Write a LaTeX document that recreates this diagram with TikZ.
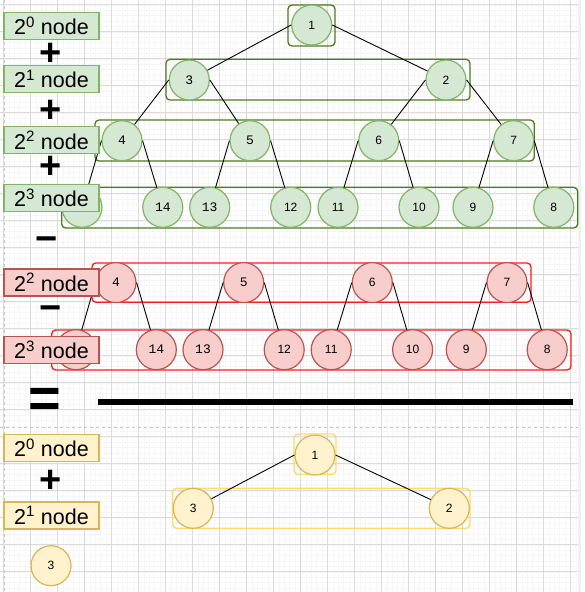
\documentclass[tikz,border=0pt]{standalone}
\usepackage{fontspec}
\setmainfont{Liberation Sans}
\newfontfamily\monofont{Liberation Mono}
\usetikzlibrary{positioning}

\definecolor{greenfill}{HTML}{D5E8D4}
\definecolor{greenline}{HTML}{82B366}
\definecolor{greenrow}{HTML}{4D7A1F}
\definecolor{redfill}{HTML}{F8CECC}
\definecolor{redline}{HTML}{B85450}
\definecolor{redrow}{HTML}{FF1A1A}
\definecolor{yellowfill}{HTML}{FFF2CC}
\definecolor{yellowline}{HTML}{D6B656}
\definecolor{yellowrow}{HTML}{FFD966}

\begin{document}
\begin{tikzpicture}[
  x=1pt, y=-1pt,
  heap/.style={
    circle, draw, line width=1.2pt,
    minimum size=40pt, inner sep=0pt,
    font=\fontsize{12}{12}\selectfont,
  },
  gnode/.style={heap, draw=greenline, fill=greenfill},
  rnode/.style={heap, draw=redline, fill=redfill},
  ynode/.style={heap, draw=yellowline, fill=yellowfill},
  mono/.style={font=\monofont\fontsize{13}{13}\selectfont},
  tag/.style={
    draw, line width=1.2pt,
    minimum width=95pt, minimum height=27pt, inner sep=0pt,
    font=\fontsize{21.5}{21.5}\selectfont,
  },
  gtag/.style={tag, draw=greenline, fill=greenfill},
  rtag/.style={tag, draw=redline, fill=redfill},
  ytag/.style={tag, draw=yellowline, fill=yellowfill},
  rowbox/.style={rounded corners=4pt, line width=1.3pt},
  edge/.style={line width=0.9pt, black},
  sign/.style={font=\fontsize{38}{38}\selectfont\bfseries, inner sep=0pt},
  minorline/.style={line width=0.4pt, gray!7},
  majorline/.style={line width=0.6pt, gray!28},
  pagebreak/.style={line width=0.8pt, gray!45, dash pattern=on 3pt off 3pt},
]

\useasboundingbox (0,0) rectangle (585,592);

% Background grid
\foreach \i in {0,...,106} \draw[minorline] ({3.3+5.4*\i},0) -- ({3.3+5.4*\i},592);
\foreach \i in {0,...,109} \draw[minorline] (0,{4.7+5.4*\i}) -- (578,{4.7+5.4*\i});
\foreach \i in {0,...,21} \draw[majorline] ({3.3+27*\i},0) -- ({3.3+27*\i},592);
\foreach \i in {0,...,21} \draw[majorline] (0,{4.7+27*\i}) -- (578,{4.7+27*\i});
\fill[gray!12] (578,0) rectangle (581,592);
\draw[pagebreak] (4.5,0) -- (4.5,592);
\draw[pagebreak] (0,427) -- (578,427);

% Green heap
\draw[rowbox, greenrow] (288,5) rectangle (335,46);
\draw[rowbox, greenrow] (166,59.3) rectangle (470,100);
\draw[rowbox, greenrow] (95,120) rectangle (534.3,161);
\draw[rowbox, greenrow] (61.7,187.3) rectangle (577.7,228);

\node[gnode] (g1) at (311.7,25) {1};
\node[gnode, mono] (g3) at (189.3,80) {3};
\node[gnode] (g2) at (446,80) {2};
\node[gnode, mono] (g4) at (122,140.7) {4};
\node[gnode, mono] (g5) at (250,140.7) {5};
\node[gnode] (g6) at (378.7,140.7) {6};
\node[gnode] (g7) at (513.7,140.7) {7};
\node[gnode] (g15) at (82,207.3) {};
\node[gnode, mono] (g14) at (162.8,207.3) {14};
\node[gnode, mono] (g13) at (209.7,207.3) {13};
\node[gnode] (g12) at (290.7,207.3) {12};
\node[gnode] (g11) at (338,207.3) {11};
\node[gnode] (g10) at (419,207.3) {10};
\node[gnode] (g9) at (473,207.3) {9};
\node[gnode] (g8) at (553.8,207.3) {8};

\foreach \p/\c/\s in {g1/g3/west, g1/g2/east, g3/g4/west, g3/g5/east,
  g2/g6/west, g2/g7/east, g4/g15/west, g4/g14/east, g5/g13/west, g5/g12/east,
  g6/g11/west, g6/g10/east, g7/g9/west, g7/g8/east}
  \draw[edge] (\p.\s) -- (\c);

% Red heap
\draw[rowbox, redrow] (92,263) rectangle (531,302.3);
\draw[rowbox, redrow] (51.7,330) rectangle (571,370);

\node[rnode, mono] (r4) at (116,282.6) {4};
\node[rnode, mono] (r5) at (243.7,282.6) {5};
\node[rnode] (r6) at (372.3,282.6) {6};
\node[rnode] (r7) at (507,282.6) {7};
\node[rnode] (r15) at (76,349.7) {};
\node[rnode, mono] (r14) at (156.3,349.7) {14};
\node[rnode, mono] (r13) at (203,349.7) {13};
\node[rnode] (r12) at (284.2,349.7) {12};
\node[rnode] (r11) at (331.2,349.7) {11};
\node[rnode] (r10) at (412.6,349.7) {10};
\node[rnode] (r9) at (466.3,349.7) {9};
\node[rnode] (r8) at (547.2,349.7) {8};

\foreach \p/\c/\s in {r4/r15/west, r4/r14/east, r5/r13/west, r5/r12/east,
  r6/r11/west, r6/r10/east, r7/r9/west, r7/r8/east}
  \draw[edge] (\p.\s) -- (\c);

% Result bar
\draw[line width=6pt] (98,402) -- (573,402);

% Yellow heap
\draw[rowbox, yellowrow] (294,434) rectangle (336,474.3);
\draw[rowbox, yellowrow] (172.7,488.3) rectangle (470,528.3);

\node[ynode] (y1) at (315,455) {1};
\node[ynode] (y3) at (193.3,508.3) {3};
\node[ynode] (y2) at (449.3,508.3) {2};
\node[ynode] (ylast) at (51,565.7) {3};

\draw[edge] (y1.west) -- (y3);
\draw[edge] (y1.east) -- (y2);

% Left column: counts and signs
\node[gtag] (t0) at (51.5,25.7) {2\textsuperscript{0} node};
\node[sign] (plusa) at (51,54) {+};
\node[gtag] (t1) at (51.5,79) {2\textsuperscript{1} node};
\node[sign] (plusb) at (51,111) {+};
\node[gtag] (t2) at (51.5,140.3) {2\textsuperscript{2} node};
\node[sign] (plusc) at (51,167) {+};
\node[gtag] (t3) at (51.5,198) {2\textsuperscript{3} node};
\node[sign] (minusa) at (47,244) {−};
\node[rtag] (s2) at (51.5,282.5) {2\textsuperscript{2} node};
\node[sign] (minusb) at (51,313) {−};
\node[rtag] (s3) at (51.5,349.7) {2\textsuperscript{3} node};
\node[sign, font=\fontsize{56}{56}\selectfont\bfseries] (equal) at (45,403) {=};
\node[ytag] (u0) at (51.5,448) {2\textsuperscript{0} node};
\node[sign] (plusd) at (50.5,481) {+};
\node[ytag] (u1) at (51.5,515.5) {2\textsuperscript{1} node};

\end{tikzpicture}
\end{document}
